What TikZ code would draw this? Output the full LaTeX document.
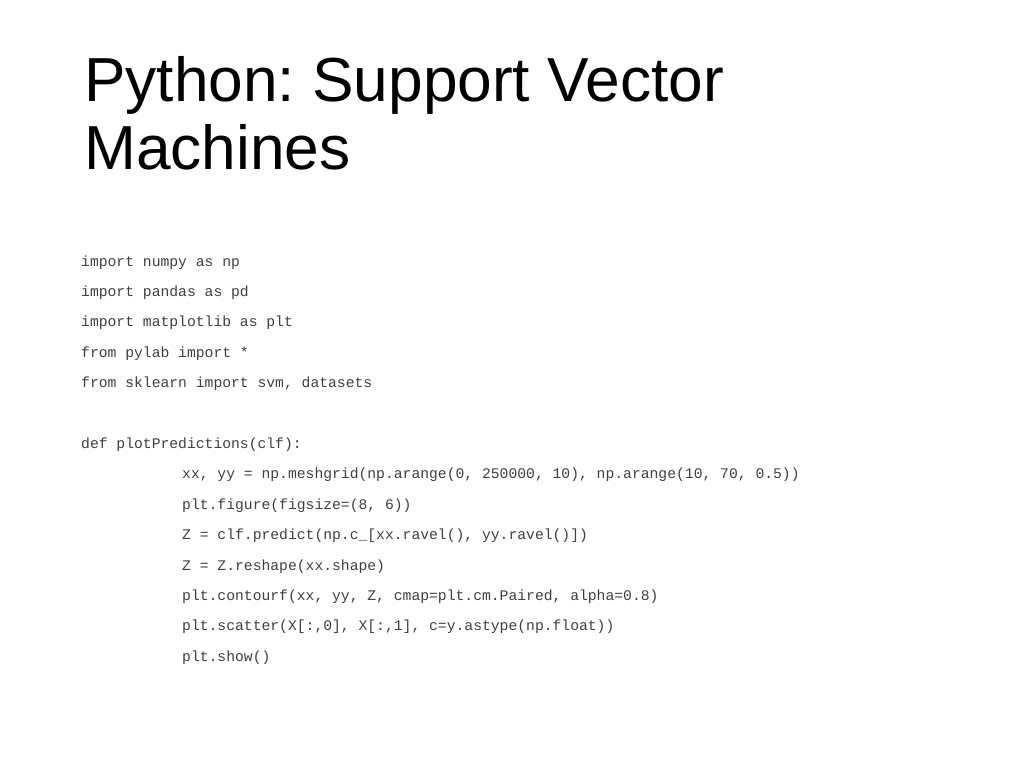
\documentclass[tikz,border=0pt]{standalone}
\usepackage{fontspec}
\setmainfont{Liberation Sans}
\newfontfamily\codefont{Liberation Mono}
\frenchspacing
\begin{document}
\begin{tikzpicture}[x=1pt,y=-1pt,
  titletext/.style={anchor=base west,inner sep=0pt,font=\fontsize{62.2}{62.2}\selectfont,text=black},
  codetext/.style={anchor=base west,inner sep=0pt,font=\codefont\fontsize{14.7}{14.7}\selectfont,text=black!75}]
\useasboundingbox[fill=white] (0,0) rectangle (1024,768);
\node[titletext] (t1) at (84,101) {Python: Support Vector};
\node[titletext] (t2) at (84,169) {Machines};
\node[codetext] (c1) at (81,266) {import numpy as np};
\node[codetext] (c2) at (81,296.4) {import pandas as pd};
\node[codetext] (c3) at (81,326.8) {import matplotlib as plt};
\node[codetext] (c4) at (81,357.2) {from pylab import *};
\node[codetext] (c5) at (81,387.6) {from sklearn import svm, datasets};
\node[codetext] (c6) at (81,448.4) {def plotPredictions(clf):};
\node[codetext] (c7) at (182,478.8) {xx, yy = np.meshgrid(np.arange(0, 250000, 10), np.arange(10, 70, 0.5))};
\node[codetext] (c8) at (182,509.2) {plt.figure(figsize=(8, 6))};
\node[codetext] (c9) at (182,539.6) {Z = clf.predict(np.c\_[xx.ravel(), yy.ravel()])};
\node[codetext] (c10) at (182,570) {Z = Z.reshape(xx.shape)};
\node[codetext] (c11) at (182,600.4) {plt.contourf(xx, yy, Z, cmap=plt.cm.Paired, alpha=0.8)};
\node[codetext] (c12) at (182,630.8) {plt.scatter(X[:,0], X[:,1], c=y.astype(np.float))};
\node[codetext] (c13) at (182,661.2) {plt.show()};
\end{tikzpicture}
\end{document}
